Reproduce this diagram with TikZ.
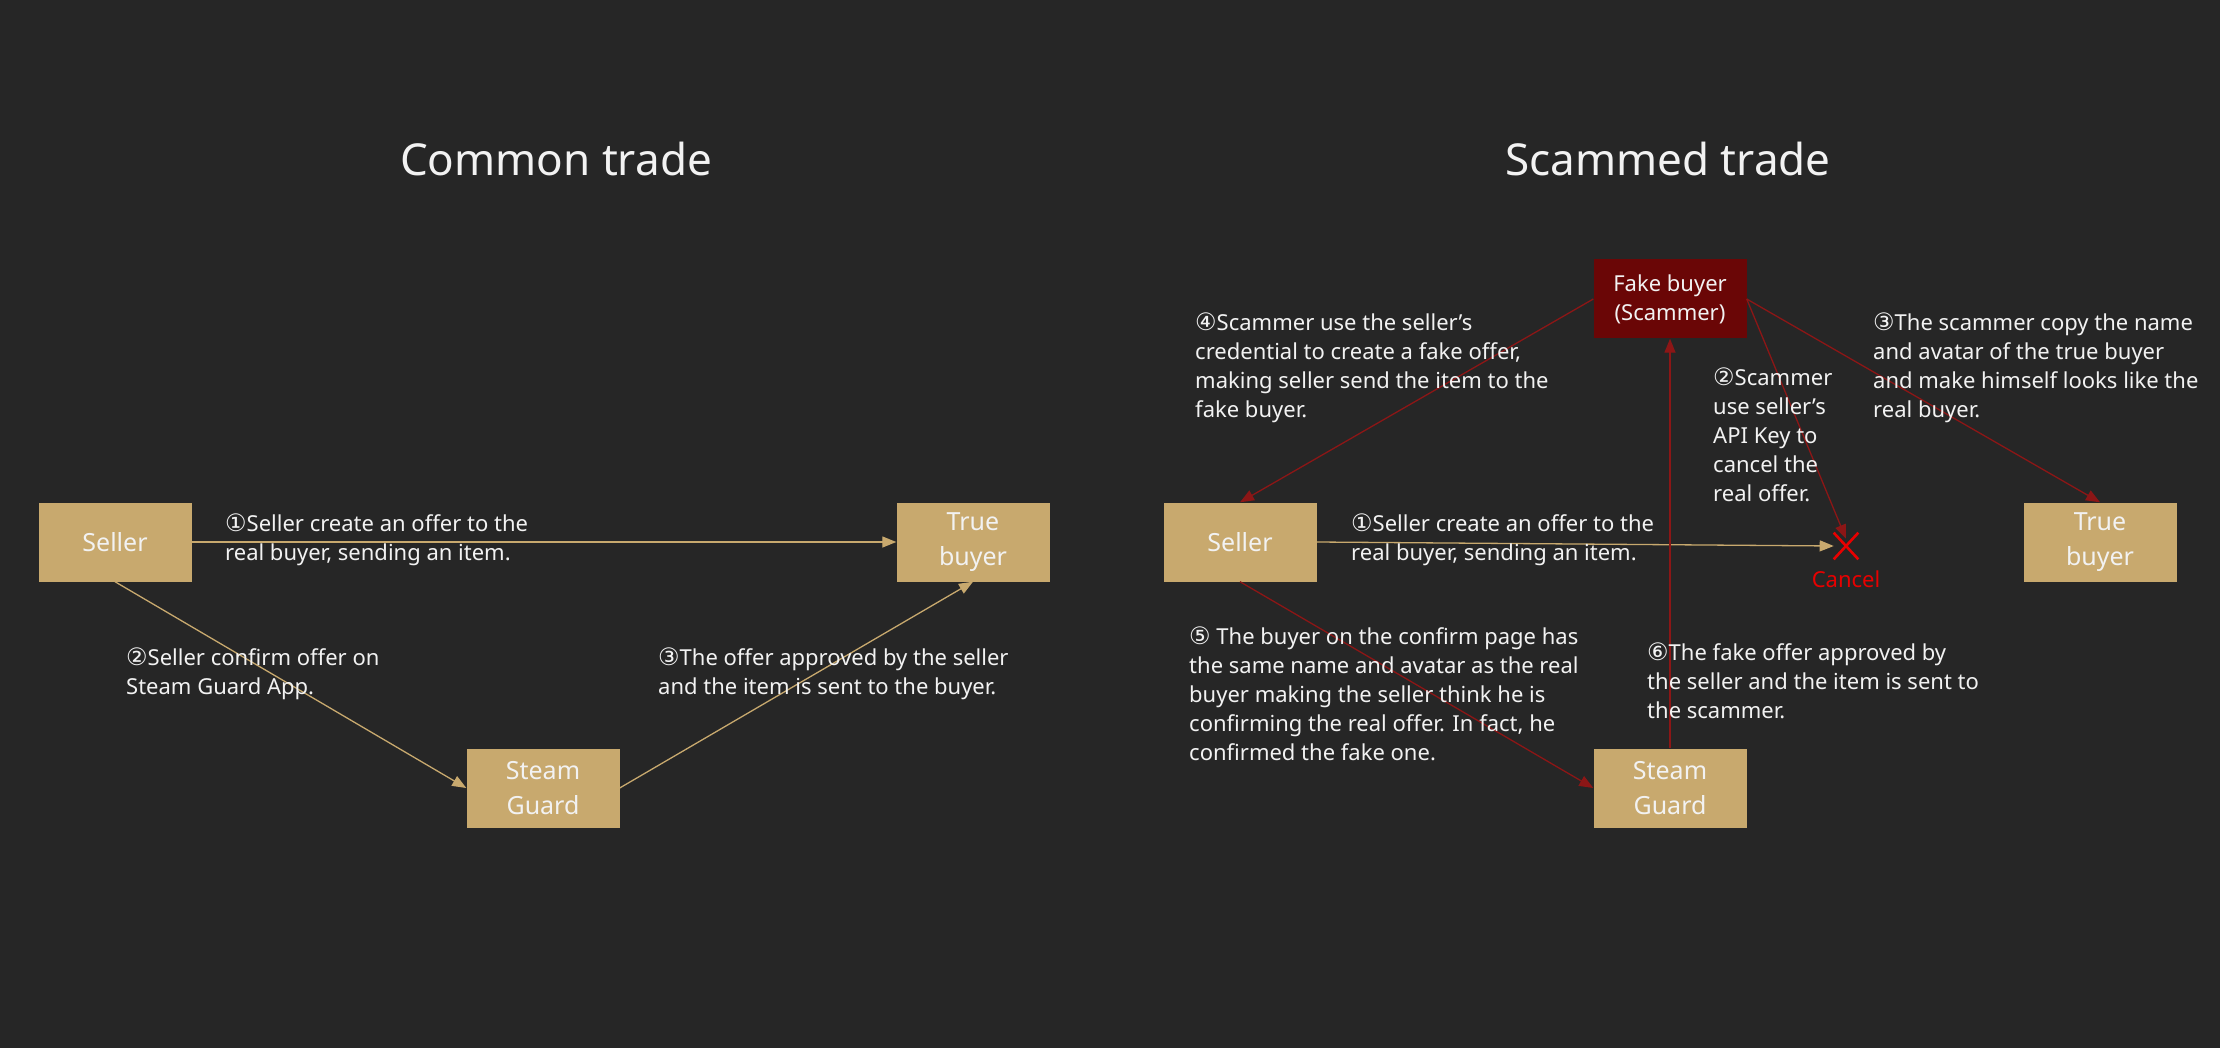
\documentclass[tikz,border=0pt]{standalone}
\usepackage{fontspec}
\setmainfont{Noto Sans}
\newfontfamily\circfont{DejaVu Sans}
\usetikzlibrary{arrows.meta,shapes.misc}
\definecolor{bgc}{RGB}{38,38,38}
\definecolor{goldc}{RGB}{200,169,110}
\definecolor{fakec}{RGB}{106,6,6}
\definecolor{redl}{RGB}{140,22,22}
\definecolor{cancelc}{RGB}{232,0,0}
\definecolor{txtc}{RGB}{242,242,242}
\newcommand{\cn}[1]{{\circfont\fontsize{24}{29}\selectfont #1}}
\tikzset{
  box/.style={draw=none, fill=goldc, text=txtc, minimum width=153pt, minimum height=79pt,
    inner sep=0pt, align=center, font=\fontsize{25}{35}\selectfont},
  fakebox/.style={box, fill=fakec, font=\fontsize{22}{29}\selectfont},
  lbl/.style={anchor=north west, inner sep=0pt, align=left, text=txtc, font=\fontsize{22}{29}\selectfont},
  ttl/.style={text=txtc, inner sep=0pt, font=\fontsize{44}{50}\selectfont},
  garrow/.style={draw=goldc, line width=1.3pt, -{Triangle[length=14pt,width=11pt]}},
  rarrow/.style={draw=redl, line width=1.3pt, -{Triangle[length=14pt,width=11pt]}},
}
\begin{document}
\begin{tikzpicture}[x=1pt,y=-1pt]
\fill[bgc] (0,0) rectangle (2220,1048);
\useasboundingbox (0,0) rectangle (2220,1048);

% ---- Common trade ----
\node[ttl] (t1) at (556,159) {Common trade};
\node[box] (s1) at (115,542) {Seller};
\node[box] (b1) at (973,542) {True\\buyer};
\node[box] (g1) at (543,788) {Steam\\Guard};
\draw[garrow] (s1.east) -- (b1.west);
\draw[garrow] (s1.south) -- (g1.west);
\draw[garrow] (g1.east) -- (b1.south);
\node[lbl] (l1) at (225,514) {\cn{①}Seller create an offer to the\\real buyer, sending an item.};
\node[lbl] (l2) at (126,648) {\cn{②}Seller confirm offer on\\Steam Guard App.};
\node[lbl] (l3) at (658,648) {\cn{③}The offer approved by the seller\\and the item is sent to the buyer.};

% ---- Scammed trade ----
\node[ttl] (t2) at (1668,159) {Scammed trade};
\node[fakebox] (f2) at (1670,299) {Fake buyer\\(Scammer)};
\node[box] (s2) at (1240,542) {Seller};
\node[box] (b2) at (2100,542) {True\\buyer};
\node[box] (g2) at (1670,788) {Steam\\Guard};
\node[draw=cancelc, cross out, line width=2.6pt, minimum width=22pt, minimum height=24pt, inner sep=0pt] (x2) at (1846,546) {};
\node[text=cancelc, inner sep=0pt, font=\fontsize{22}{26}\selectfont] (c2) at (1846,579) {Cancel};

\draw[garrow] (s2.east) -- (x2.west);
\draw[rarrow] (f2.east) -- ([yshift=-6pt]x2.north);
\draw[rarrow] (f2.east) -- (b2.north);
\draw[rarrow] (f2.west) -- (s2.north);
\draw[rarrow] (s2.south) -- (g2.west);
\draw[rarrow] (g2.north) -- (f2.south);

\node[lbl] (r4) at (1195,313) {\cn{④}Scammer use the seller’s\\credential to create a fake offer,\\making seller send the item to the\\fake buyer.};
\node[lbl] (r2) at (1713,368) {\cn{②}Scammer\\use seller’s\\API Key to\\cancel the\\real offer.};
\node[lbl] (r3) at (1873,313) {\cn{③}The scammer copy the name\\and avatar of the true buyer\\and make himself looks like the\\real buyer.};
\node[lbl] (r1) at (1351,514) {\cn{①}Seller create an offer to the\\real buyer, sending an item.};
\node[lbl] (r5) at (1189,627) {\cn{⑤} The buyer on the confirm page has\\the same name and avatar as the real\\buyer making the seller think he is\\confirming the real offer. In fact, he\\confirmed the fake one.};
\node[lbl] (r6) at (1647,643) {\cn{⑥}The fake offer approved by\\the seller and the item is sent to\\the scammer.};
\end{tikzpicture}
\end{document}
